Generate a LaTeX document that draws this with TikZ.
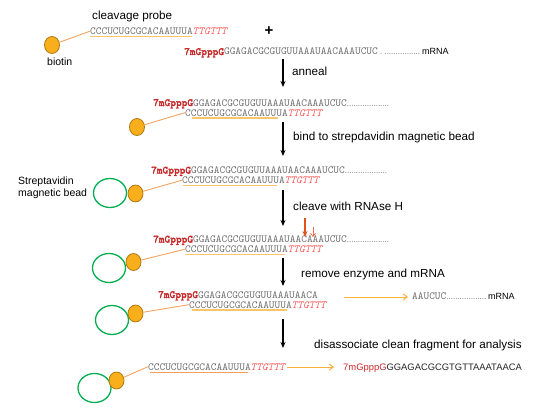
\documentclass[tikz,border=0pt]{standalone}
\usepackage{fontspec}
\setmainfont{Liberation Sans}
\newfontfamily\seqf{Latin Modern Mono}[AutoFakeBold=2.5]
\usetikzlibrary{arrows.meta,shapes.geometric}
\definecolor{seqgrey}{HTML}{6E6E6E}
\definecolor{capred}{HTML}{C62828}
\definecolor{tred}{HTML}{FF5555}
\definecolor{uline}{HTML}{F9C46B}
\definecolor{uline2}{HTML}{F2A05E}
\definecolor{linkor}{HTML}{F4A460}
\definecolor{biofill}{HTML}{F9AE1B}
\definecolor{biodraw}{HTML}{B07A10}
\definecolor{beadg}{HTML}{00B050}
\definecolor{flowor}{HTML}{FBB040}
\definecolor{cutred}{HTML}{E0521E}
\definecolor{cutred2}{HTML}{F06848}
\newcommand{\capg}{\textcolor{capred}{\bfseries 7mGpppG}}
\newcommand{\tail}{\textcolor{tred}{\itshape TTGTTT}}
\newcommand{\sdots}[1]{{\rmfamily\fontsize{8}{8}\selectfont #1}}
\begin{document}
\begin{tikzpicture}[x=1pt,y=-1pt,
  seq/.style={font=\seqf\fontsize{10.85}{11}\selectfont, text=seqgrey, inner sep=0pt, anchor=base west},
  lab/.style={font=\fontsize{11.7}{13}\selectfont, inner sep=0pt, anchor=base west},
  small/.style={font=\fontsize{10.5}{12}\selectfont, inner sep=0pt, anchor=base west},
  rna/.style={font=\fontsize{9}{10}\selectfont, inner sep=0pt, anchor=base west},
  biotin/.style={ellipse, draw=biodraw, fill=biofill, line width=0.8pt, minimum width=15pt, minimum height=17pt, inner sep=0pt},
  bead/.style={ellipse, draw=beadg, line width=1.3pt, minimum width=33pt, minimum height=29pt, inner sep=0pt},
  link/.style={draw=linkor, line width=0.9pt},
  ul/.style={draw=uline, line width=1.2pt},
  stepar/.style={-{Stealth[length=6pt,width=5pt]}, line width=1.2pt, black},
  flow/.style={-{Straight Barb[length=4pt,width=6pt]}, draw=flowor, line width=1pt}
]
\useasboundingbox (0,0) rectangle (554,412);

% ---------- row 1 ----------
\node[lab] (lprobe) at (92,19.5) {cleavage probe};
\node[seq] (p1) at (90,34.5) {CCCUCUGCGCACAAUUUA\tail};
\draw[ul] (90,36.5) -- (192,36.5);
\node[biotin] (b1) at (52,45) {};
\draw[link] (b1) -- (p1.west);
\node[small] (lbiotin) at (47,66) {biotin};
\node[font=\bfseries\fontsize{15}{15}\selectfont, inner sep=0pt] (plus) at (269,31.5) {+};
\node[seq] (m1) at (184,55) {\capg GGAGACGCGUGUUAAAUAACAAAUCUC\sdots{\ .\ ................}};
\node[rna] (r1) at (422,55) {mRNA};

\coordinate (a1s) at (283,59); \coordinate (a1e) at (283,87);
\draw[stepar] (a1s) -- (a1e);
\node[lab] (t1) at (292,76) {anneal};

% ---------- row 2 ----------
\node[seq] (m2) at (153,106) {\capg GGAGACGCGUGUUAAAUAACAAAUCUC\sdots{...................}};
\node[seq] (p2) at (185,116) {CCCUCUGCGCACAAUUUA\tail};
\draw[ul] (192,118) -- (278,118);
\node[biotin] (b2) at (137,127) {};
\draw[link] (b2) -- (p2.west);

\coordinate (a2s) at (283,122); \coordinate (a2e) at (283,156);
\draw[stepar] (a2s) -- (a2e);
\node[lab] (t2) at (293,140) {bind to strepdavidin magnetic bead};

% ---------- row 3 ----------
\node[seq] (m3) at (151,173.5) {\capg GGAGACGCGUGUUAAAUAACAAAUCUC\sdots{...................}};
\node[seq] (p3) at (182,183.5) {CCCUCUGCGCACAAUUUA\tail};
\draw[ul] (183,185.8) -- (277,185.8);
\node[bead] (g3) at (110,193) {};
\node[biotin] (b3) at (135.5,193.5) {};
\draw[link] (b3) -- (p3.west);
\node[small] (lbead1) at (18,184) {Streptavidin};
\node[small] (lbead2) at (18,196) {magnetic bead};

\coordinate (a3s) at (283,190); \coordinate (a3e) at (283,226);
\draw[stepar] (a3s) -- (a3e);
\node[lab] (t3) at (293,210) {cleave with RNAse H};

% ---------- row 4 ----------
\node[seq] (m4) at (153,242.5) {\capg GGAGACGCGUGUUAAAUAACAAAUCUC\sdots{...................}};
\node[seq] (p4) at (185,252.5) {CCCUCUGCGCACAAUUUA\tail};
\draw[ul] (185,254.8) -- (285,254.8);
\node[bead] (g4) at (109,268) {};
\node[biotin] (b4) at (133.5,262) {};
\draw[link] (b4) -- (p4.west);
\coordinate (c1s) at (305,218); \coordinate (c1e) at (305,237);
\draw[-{Stealth[length=6pt,width=5pt]}, draw=cutred, fill=cutred, line width=1.6pt] (c1s) -- (c1e);
\coordinate (c2s) at (313,227); \coordinate (c2e) at (313,237);
\draw[-{Straight Barb[length=3pt,width=5pt]}, draw=cutred2, line width=0.8pt] (c2s) -- (c2e);

\coordinate (a4s) at (283,258); \coordinate (a4e) at (283,286);
\draw[stepar] (a4s) -- (a4e);
\node[lab] (t4) at (301,277) {remove enzyme and mRNA};

% ---------- row 5 ----------
\node[seq] (m5) at (158,298) {\capg GGAGACGCGUGUUAAAUAACA};
\node[seq] (p5) at (189,308) {CCCUCUGCGCACAAUUUA\tail};
\draw[ul] (192,310) -- (287,310);
\node[bead] (g5) at (112,320) {};
\node[biotin] (b5) at (135.5,313.5) {};
\draw[link] (b5) -- (p5.west);
\coordinate (f1s) at (344,297); \coordinate (f1e) at (408,297);
\draw[flow] (f1s) -- (f1e);
\node[seq] (m5b) at (412,299) {AAUCUC\sdots{..................}};
\node[rna] (r5) at (488,299) {mRNA};

\coordinate (a5s) at (283,319); \coordinate (a5e) at (283,348);
\draw[stepar] (a5s) -- (a5e);
\node[lab] (t5) at (314,348) {disassociate clean fragment for analysis};

% ---------- row 6 ----------
\node[seq] (p6) at (148,370) {CCCUCUGCGCACAAUUUA\tail};
\draw[draw=uline2, line width=1.2pt] (150,372.5) -- (248,372.5);
\node[bead] (g6) at (94.5,388) {};
\node[biotin] (b6) at (116.5,380.5) {};
\draw[link] (b6) -- (p6.west);
\coordinate (f2s) at (287,367); \coordinate (f2e) at (334,367);
\draw[flow] (f2s) -- (f2e);
\node[font=\fontsize{9.4}{10}\selectfont, inner sep=0pt, anchor=base west, text=black!85] (frag) at (343,370.5) {\textcolor{capred}{7mGpppG}GGAGACGCGTGTTAAATAACA};
\end{tikzpicture}
\end{document}
